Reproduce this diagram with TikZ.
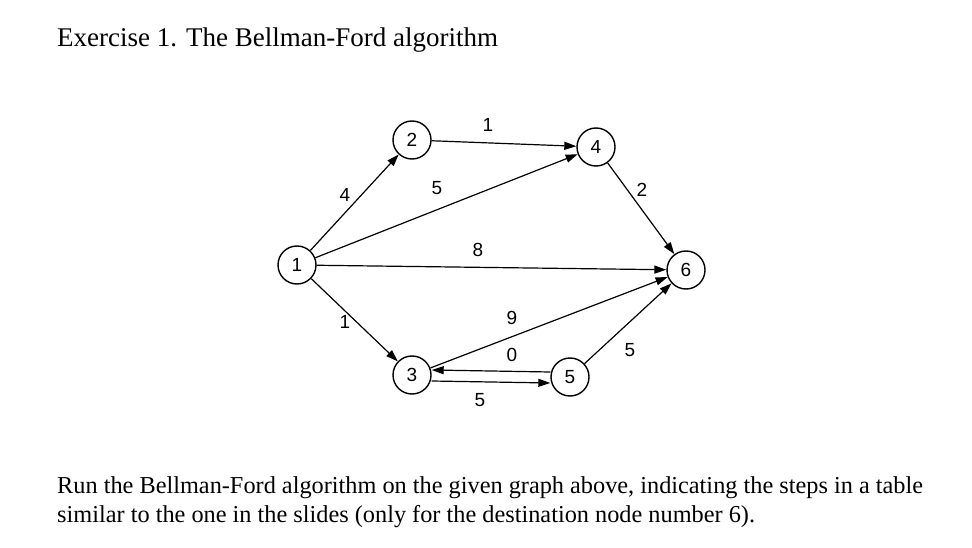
\documentclass[tikz,border=0pt]{standalone}
\usepackage{fontspec}
\setmainfont{Liberation Serif}
\newfontfamily\lab{Liberation Sans}
\usetikzlibrary{arrows.meta}
\begin{document}
\begin{tikzpicture}[x=1pt,y=-1pt,
  vert/.style={circle,draw,line width=1.4pt,minimum size=38pt,inner sep=0pt,font=\lab\fontsize{19}{19}\selectfont},
  edge/.style={line width=1.2pt,-{Triangle[length=12pt,width=8pt]}},
  wt/.style={font=\lab\fontsize{19}{19}\selectfont,inner sep=0pt}]
\useasboundingbox (0,0) rectangle (972,548);
\node[anchor=west,font=\fontsize{27}{27}\selectfont,inner sep=0pt] (title) at (57,40) {Exercise 1. The Bellman-Ford algorithm};
\node (n1) [vert] at (297,265) {1};
\node (n2) [vert] at (412,140) {2};
\node (n4) [vert] at (596,147) {4};
\node (n6) [vert] at (686,270) {6};
\node (n3) [vert] at (412,375) {3};
\node (n5) [vert] at (570,377) {5};
\draw[edge] (n1) -- (n2);
\draw[edge] (n1) -- (n4);
\draw[edge] (n1) -- (n6);
\draw[edge] (n1) -- (n3);
\draw[edge] (n2) -- (n4);
\draw[edge] (n4) -- (n6);
\draw[edge] (n3) -- (n6);
\draw[edge] (n5) -- (n6);
\draw[edge] ([yshift=5pt]n5.west) -- ([yshift=5pt]n3.east);
\draw[edge] ([yshift=-6pt]n3.east) -- ([yshift=-6pt]n5.west);
\node[wt] (w1) at (488,125) {1};
\node[wt] (w2) at (345,195) {4};
\node[wt] (w3) at (437,188) {5};
\node[wt] (w4) at (478,250) {8};
\node[wt] (w5) at (642,190) {2};
\node[wt] (w6) at (345,322) {1};
\node[wt] (w7) at (512,318) {9};
\node[wt] (w8) at (512,355) {0};
\node[wt] (w9) at (480,400) {5};
\node[wt] (w10) at (630,350) {5};
\node[anchor=west,inner sep=0pt,align=left,font=\fontsize{24.3}{29}\selectfont] (body) at (57,502) {Run the Bellman-Ford algorithm on the given graph above, indicating the steps in a table\\similar to the one in the slides (only for the destination node number 6).};
\end{tikzpicture}
\end{document}
